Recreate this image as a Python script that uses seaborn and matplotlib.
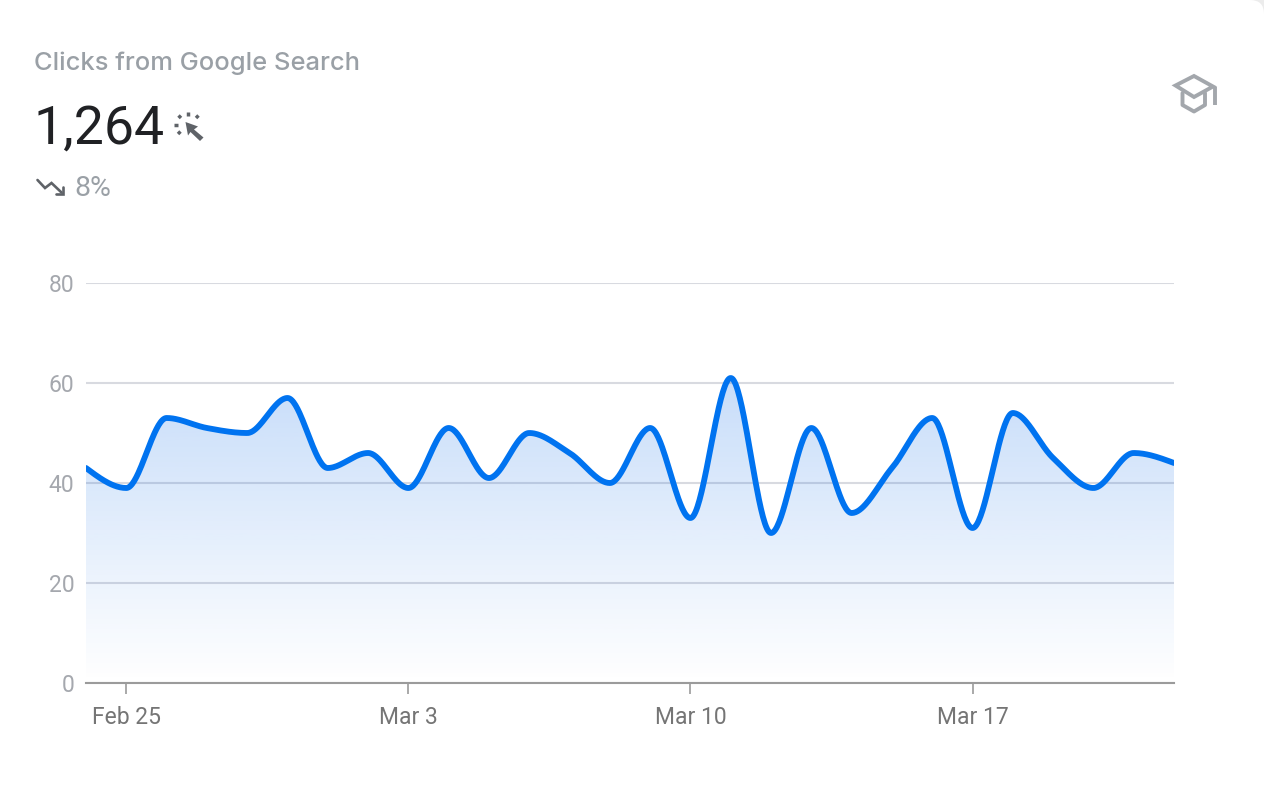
import numpy as np
import pandas as pd
import seaborn as sns
import matplotlib
matplotlib.use("Agg")
import matplotlib.pyplot as plt
from matplotlib.colors import to_rgb
from matplotlib.patches import FancyBboxPatch, Polygon, PathPatch
from matplotlib.path import Path

start_date = "2024-02-24"
clicks = [43, 39, 53, 51, 50, 57, 43, 46, 39, 51, 41, 50, 46, 40,
          51, 33, 61, 30, 51, 34, 43, 53, 31, 54, 45, 39, 46, 44]
tick_dates = ["2024-02-25", "2024-03-03", "2024-03-10", "2024-03-17"]
tick_labels = ["Feb 25", "Mar 3", "Mar 10", "Mar 17"]
y_ticks = [0, 20, 40, 60, 80]
title = "Clicks from Google Search"
total = "1,264"
change = "8%"

W, H = 1264, 790
BLUE = "#0073f0"


def monotone_curve(y, steps=40):
    # same curve the web chart uses: monotone cubic between the daily values
    y = np.asarray(y, dtype=float)
    s = np.diff(y)
    m = np.zeros(len(y))
    for i in range(1, len(y) - 1):
        p = (s[i - 1] + s[i]) / 2
        m[i] = (np.sign(s[i - 1]) + np.sign(s[i])) * min(abs(s[i - 1]), abs(s[i]), 0.5 * abs(p))
    m[0] = (3 * s[0] - m[1]) / 2
    m[-1] = (3 * s[-1] - m[-2]) / 2
    xs, ys = [], []
    for i in range(len(y) - 1):
        t = np.linspace(0, 1, steps, endpoint=False)
        ys.append((2*t**3 - 3*t**2 + 1) * y[i] + (t**3 - 2*t**2 + t) * m[i]
                  + (-2*t**3 + 3*t**2) * y[i + 1] + (t**3 - t**2) * m[i + 1])
        xs.append(i + t)
    xs.append([len(y) - 1])
    ys.append([y[-1]])
    return np.concatenate(xs), np.concatenate(ys)


sns.set_style("white")
plt.rcParams["font.family"] = ["Roboto", "DejaVu Sans"]

fig = plt.figure(figsize=(W / 100, H / 100), dpi=100, facecolor="#ececec")

# overlay in pixel coordinates for the card, header and icons
bg = fig.add_axes([0, 0, 1, 1], zorder=0)
bg.set_xlim(0, W)
bg.set_ylim(H, 0)
bg.axis("off")
bg.add_patch(FancyBboxPatch((-60, 0), W + 60, H + 60, boxstyle="round,pad=0,rounding_size=14",
                            fc="white", ec="none"))

# Inter is wider than Roboto, stands in for the letter spacing of the original
bg.text(34.5, 60.5, title, fontsize=18.4, color="#9aa0a6", va="center_baseline", ha="left",
        family=["Inter", "DejaVu Sans"], fontweight="medium")
bg.text(34, 124, total, fontsize=38.5, color="#202124", va="center_baseline", ha="left")
bg.text(74, 186, change, fontsize=20.5, color="#9aa0a6", va="center_baseline", ha="left")

# cursor icon
ICON = "#5f6368"
for x0, y0, x1, y1 in [(188.3, 112, 188.3, 116), (178.5, 115.5, 181, 118), (198.5, 115.5, 196, 118),
                       (174, 125, 178, 125), (178, 134, 180.5, 131.5)]:
    bg.plot([x0, x1], [y0, y1], color=ICON, lw=2.5, solid_capstyle="butt")
bg.add_patch(Polygon([(185.5, 122), (198, 126.5), (194, 129.5), (203.5, 137.5), (200, 141),
                      (190.5, 132), (188, 135.5)], fc=ICON, ec="none"))

# trend icon
bg.plot([37.5, 45, 51.5, 61.5], [180, 188, 183, 192.5], color=ICON, lw=1.9, solid_joinstyle="miter")
bg.plot([63, 63, 56], [186.5, 193.5, 193.5], color=ICON, lw=1.9, solid_joinstyle="miter")

# graduation cap icon
CAP = "#a3a7ac"
bg.add_patch(Polygon([(1175.5, 85.5), (1194, 76), (1213, 86.5), (1194, 97)], closed=True, fc="none", ec=CAP, lw=2.8))
bg.plot([1182.5, 1182.5, 1194, 1205, 1205], [93, 105, 111.5, 105, 93], color=CAP, lw=2.8)
bg.plot([1214.5, 1214.5], [87, 104.5], color=CAP, lw=2.8, solid_capstyle="butt")

# chart
ax = fig.add_axes([86 / W, 1 - 683 / H, (1174 - 86) / W, (683 - 283) / H], zorder=1)
ax.patch.set_alpha(0)

dates = pd.date_range(start_date, periods=len(clicks), freq="D")
day_x, day_y = monotone_curve(clicks)

# gradient under the curve
grad = np.zeros((256, 1, 4))
grad[:, 0, :3] = to_rgb("#1a73e8")
grad[:, 0, 3] = np.linspace(0.24, 0, 256)
img = ax.imshow(grad, extent=(0, len(clicks) - 1, 0, 60), origin="upper", aspect="auto", zorder=2)
verts = np.column_stack([np.r_[day_x, day_x[-1], day_x[0]], np.r_[day_y, 0, 0]])
clip = PathPatch(Path(verts), transform=ax.transData, fc="none", ec="none")
ax.add_patch(clip)
img.set_clip_path(clip)

sns.lineplot(x=day_x, y=day_y, ax=ax, color=BLUE, linewidth=4.2, estimator=None, sort=False, zorder=3)

ax.set_xlim(0, len(clicks) - 1)
ax.set_ylim(0, 80)
tick_pos = [(pd.Timestamp(d) - dates[0]).days for d in tick_dates]
ax.set_xticks(tick_pos, tick_labels)
ax.set_yticks(y_ticks)
ax.grid(axis="y", color="#d8dae0", lw=1.5, zorder=1)
ax.grid(axis="x", visible=False)
ax.set_axisbelow(True)
sns.despine(ax=ax, left=True)
ax.spines["bottom"].set_color("#9b9b9b")
ax.spines["bottom"].set_linewidth(1.5)
ax.spines["bottom"].set_zorder(4)
ax.tick_params(axis="x", length=8, width=1.2, color="#9b9b9b", labelcolor="#757575", labelsize=16.5, pad=8.5, bottom=True)
ax.tick_params(axis="y", length=0, labelcolor="#a5a8ae", labelsize=16.5, pad=8.5)

fig.savefig("out.png", dpi=100, facecolor=fig.get_facecolor())
